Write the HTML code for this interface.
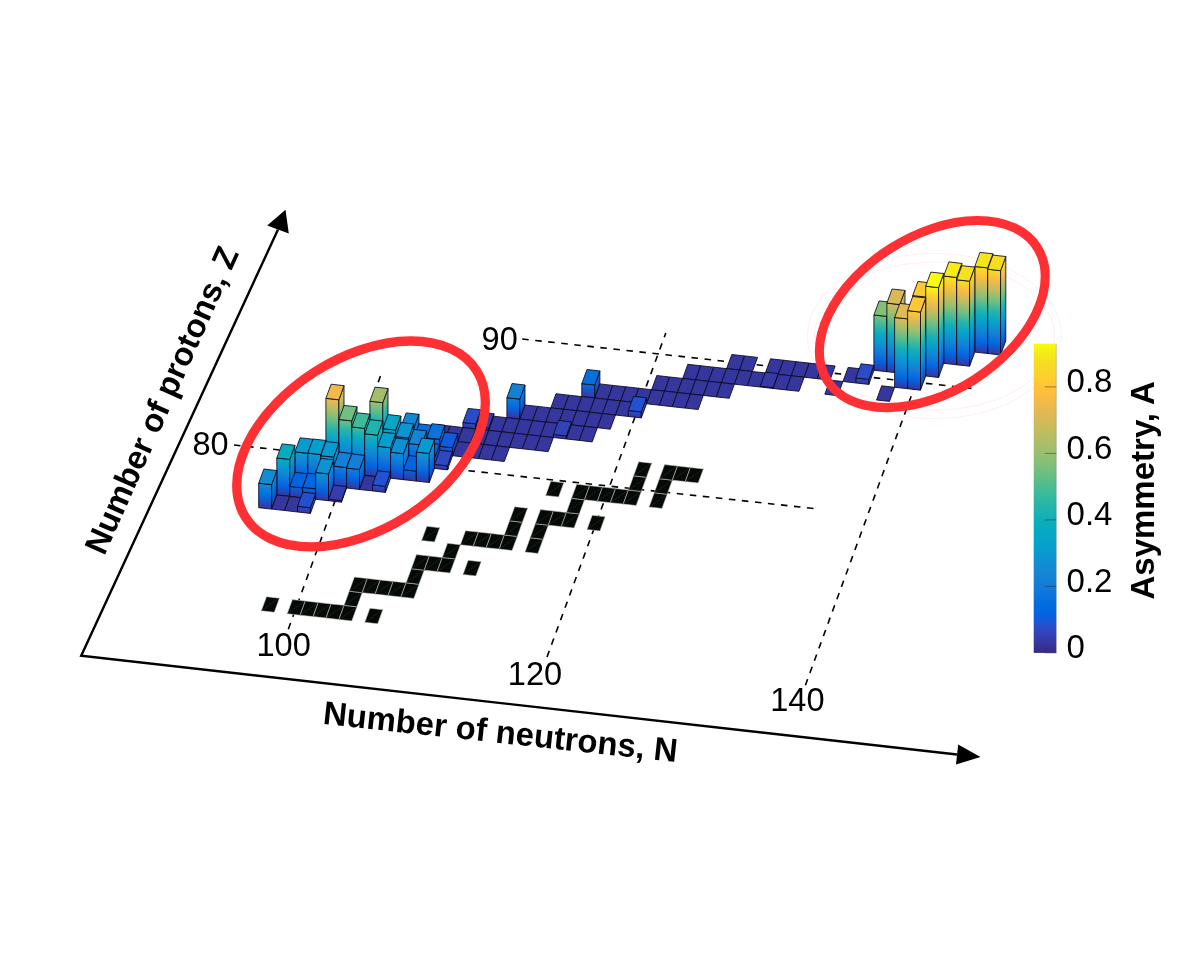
<!DOCTYPE html><html><head><meta charset="utf-8"><title>Asymmetry chart</title><style>html,body{margin:0;padding:0;background:#fff}svg{display:block}</style></head><body><svg width="1200" height="960" viewBox="0 0 1200 960" font-family="'Liberation Sans', Arial, Helvetica, sans-serif"><defs><linearGradient id="g1" gradientUnits="userSpaceOnUse" x1="974.8" y1="352.1" x2="984.2" y2="267.5"><stop offset="0%" stop-color="#36369f"/><stop offset="11.1%" stop-color="#0363e1"/><stop offset="22.2%" stop-color="#127dd8"/><stop offset="33.3%" stop-color="#0998d1"/><stop offset="44.4%" stop-color="#0dadbb"/><stop offset="55.6%" stop-color="#45bb96"/><stop offset="66.7%" stop-color="#91bf73"/><stop offset="77.8%" stop-color="#cdbb5b"/><stop offset="88.9%" stop-color="#febf3c"/><stop offset="100%" stop-color="#f5e41d"/></linearGradient><linearGradient id="g2" gradientUnits="userSpaceOnUse" x1="987.7" y1="353.5" x2="960.1" y2="343.4"><stop offset="0%" stop-color="#36369f"/><stop offset="11.1%" stop-color="#0363e1"/><stop offset="22.2%" stop-color="#127dd8"/><stop offset="33.3%" stop-color="#0998d1"/><stop offset="44.4%" stop-color="#0dadbb"/><stop offset="55.6%" stop-color="#45bb96"/><stop offset="66.7%" stop-color="#91bf73"/><stop offset="77.8%" stop-color="#cdbb5b"/><stop offset="88.9%" stop-color="#febf3c"/><stop offset="100%" stop-color="#f5e41d"/></linearGradient><linearGradient id="g3" gradientUnits="userSpaceOnUse" x1="987.7" y1="353.5" x2="996.9" y2="270.3"><stop offset="0%" stop-color="#36369f"/><stop offset="12.5%" stop-color="#0266e1"/><stop offset="25%" stop-color="#1482d5"/><stop offset="37.5%" stop-color="#06a1cd"/><stop offset="50%" stop-color="#21b4ac"/><stop offset="62.5%" stop-color="#6fbf81"/><stop offset="75%" stop-color="#b9bd63"/><stop offset="87.5%" stop-color="#f6ba46"/><stop offset="100%" stop-color="#f5de21"/></linearGradient><linearGradient id="g4" gradientUnits="userSpaceOnUse" x1="1000.6" y1="355" x2="973.4" y2="345"><stop offset="0%" stop-color="#36369f"/><stop offset="12.5%" stop-color="#0266e1"/><stop offset="25%" stop-color="#1482d5"/><stop offset="37.5%" stop-color="#06a1cd"/><stop offset="50%" stop-color="#21b4ac"/><stop offset="62.5%" stop-color="#6fbf81"/><stop offset="75%" stop-color="#b9bd63"/><stop offset="87.5%" stop-color="#f6ba46"/><stop offset="100%" stop-color="#f5de21"/></linearGradient><linearGradient id="g5" gradientUnits="userSpaceOnUse" x1="943.7" y1="363.3" x2="953.3" y2="277.1"><stop offset="0%" stop-color="#36369f"/><stop offset="11.1%" stop-color="#0363e1"/><stop offset="22.2%" stop-color="#137ed7"/><stop offset="33.3%" stop-color="#089ad0"/><stop offset="44.4%" stop-color="#10afb8"/><stop offset="55.6%" stop-color="#4dbc92"/><stop offset="66.7%" stop-color="#99bf70"/><stop offset="77.8%" stop-color="#d5ba57"/><stop offset="88.9%" stop-color="#fec536"/><stop offset="100%" stop-color="#f5ec18"/></linearGradient><linearGradient id="g6" gradientUnits="userSpaceOnUse" x1="956.7" y1="364.8" x2="928.5" y2="354.5"><stop offset="0%" stop-color="#36369f"/><stop offset="11.1%" stop-color="#0363e1"/><stop offset="22.2%" stop-color="#137ed7"/><stop offset="33.3%" stop-color="#089ad0"/><stop offset="44.4%" stop-color="#10afb8"/><stop offset="55.6%" stop-color="#4dbc92"/><stop offset="66.7%" stop-color="#99bf70"/><stop offset="77.8%" stop-color="#d5ba57"/><stop offset="88.9%" stop-color="#fec536"/><stop offset="100%" stop-color="#f5ec18"/></linearGradient><linearGradient id="g7" gradientUnits="userSpaceOnUse" x1="956.7" y1="364.8" x2="966" y2="280.8"><stop offset="0%" stop-color="#36369f"/><stop offset="12.5%" stop-color="#0267e1"/><stop offset="25%" stop-color="#1482d5"/><stop offset="37.5%" stop-color="#06a1cc"/><stop offset="50%" stop-color="#23b4ab"/><stop offset="62.5%" stop-color="#73bf7f"/><stop offset="75%" stop-color="#bdbd61"/><stop offset="87.5%" stop-color="#f9bb44"/><stop offset="100%" stop-color="#f5e11f"/></linearGradient><linearGradient id="g8" gradientUnits="userSpaceOnUse" x1="969.6" y1="366.2" x2="942.2" y2="356.2"><stop offset="0%" stop-color="#36369f"/><stop offset="12.5%" stop-color="#0267e1"/><stop offset="25%" stop-color="#1482d5"/><stop offset="37.5%" stop-color="#06a1cc"/><stop offset="50%" stop-color="#23b4ab"/><stop offset="62.5%" stop-color="#73bf7f"/><stop offset="75%" stop-color="#bdbd61"/><stop offset="87.5%" stop-color="#f9bb44"/><stop offset="100%" stop-color="#f5e11f"/></linearGradient><linearGradient id="g9" gradientUnits="userSpaceOnUse" x1="873.9" y1="370.3" x2="880" y2="315.7"><stop offset="0%" stop-color="#36369f"/><stop offset="16.7%" stop-color="#0561e0"/><stop offset="33.3%" stop-color="#127bd9"/><stop offset="50%" stop-color="#0b96d1"/><stop offset="66.7%" stop-color="#09abbe"/><stop offset="83.3%" stop-color="#3ab99c"/><stop offset="100%" stop-color="#84bf78"/></linearGradient><linearGradient id="g10" gradientUnits="userSpaceOnUse" x1="886.9" y1="371.7" x2="869" y2="365.2"><stop offset="0%" stop-color="#36369f"/><stop offset="16.7%" stop-color="#0561e0"/><stop offset="33.3%" stop-color="#127bd9"/><stop offset="50%" stop-color="#0b96d1"/><stop offset="66.7%" stop-color="#09abbe"/><stop offset="83.3%" stop-color="#3ab99c"/><stop offset="100%" stop-color="#84bf78"/></linearGradient><linearGradient id="g11" gradientUnits="userSpaceOnUse" x1="886.9" y1="371.7" x2="894.4" y2="304"><stop offset="0%" stop-color="#36369f"/><stop offset="14.3%" stop-color="#0364e1"/><stop offset="28.6%" stop-color="#137ed7"/><stop offset="42.9%" stop-color="#089bd0"/><stop offset="57.1%" stop-color="#12afb7"/><stop offset="71.4%" stop-color="#51bc90"/><stop offset="85.7%" stop-color="#9dbe6e"/><stop offset="100%" stop-color="#d9ba56"/></linearGradient><linearGradient id="g12" gradientUnits="userSpaceOnUse" x1="899.8" y1="373.2" x2="877.7" y2="365.1"><stop offset="0%" stop-color="#36369f"/><stop offset="14.3%" stop-color="#0364e1"/><stop offset="28.6%" stop-color="#137ed7"/><stop offset="42.9%" stop-color="#089bd0"/><stop offset="57.1%" stop-color="#12afb7"/><stop offset="71.4%" stop-color="#51bc90"/><stop offset="85.7%" stop-color="#9dbe6e"/><stop offset="100%" stop-color="#d9ba56"/></linearGradient><linearGradient id="g13" gradientUnits="userSpaceOnUse" x1="899.8" y1="373.2" x2="900.9" y2="363.3"><stop offset="0%" stop-color="#36369f"/><stop offset="100%" stop-color="#0364e1"/></linearGradient><linearGradient id="g14" gradientUnits="userSpaceOnUse" x1="912.7" y1="374.6" x2="909.5" y2="373.4"><stop offset="0%" stop-color="#36369f"/><stop offset="100%" stop-color="#0364e1"/></linearGradient><linearGradient id="g15" gradientUnits="userSpaceOnUse" x1="912.7" y1="374.6" x2="921.4" y2="296.6"><stop offset="0%" stop-color="#36369f"/><stop offset="12.5%" stop-color="#0364e1"/><stop offset="25%" stop-color="#137fd7"/><stop offset="37.5%" stop-color="#079bd0"/><stop offset="50%" stop-color="#13b0b6"/><stop offset="62.5%" stop-color="#54bd8e"/><stop offset="75%" stop-color="#a0be6d"/><stop offset="87.5%" stop-color="#dcba54"/><stop offset="100%" stop-color="#fdca31"/></linearGradient><linearGradient id="g16" gradientUnits="userSpaceOnUse" x1="925.7" y1="376" x2="900.2" y2="366.7"><stop offset="0%" stop-color="#36369f"/><stop offset="12.5%" stop-color="#0364e1"/><stop offset="25%" stop-color="#137fd7"/><stop offset="37.5%" stop-color="#079bd0"/><stop offset="50%" stop-color="#13b0b6"/><stop offset="62.5%" stop-color="#54bd8e"/><stop offset="75%" stop-color="#a0be6d"/><stop offset="87.5%" stop-color="#dcba54"/><stop offset="100%" stop-color="#fdca31"/></linearGradient><linearGradient id="g17" gradientUnits="userSpaceOnUse" x1="925.7" y1="376" x2="935.5" y2="287.3"><stop offset="0%" stop-color="#36369f"/><stop offset="11.1%" stop-color="#0364e1"/><stop offset="22.2%" stop-color="#137fd7"/><stop offset="33.3%" stop-color="#079cd0"/><stop offset="44.4%" stop-color="#15b1b4"/><stop offset="55.6%" stop-color="#58bd8c"/><stop offset="66.7%" stop-color="#a4be6b"/><stop offset="77.8%" stop-color="#e0ba52"/><stop offset="88.9%" stop-color="#fccd2e"/><stop offset="100%" stop-color="#f9fa0e"/></linearGradient><linearGradient id="g18" gradientUnits="userSpaceOnUse" x1="938.6" y1="377.5" x2="909.6" y2="366.9"><stop offset="0%" stop-color="#36369f"/><stop offset="11.1%" stop-color="#0364e1"/><stop offset="22.2%" stop-color="#137fd7"/><stop offset="33.3%" stop-color="#079cd0"/><stop offset="44.4%" stop-color="#15b1b4"/><stop offset="55.6%" stop-color="#58bd8c"/><stop offset="66.7%" stop-color="#a4be6b"/><stop offset="77.8%" stop-color="#e0ba52"/><stop offset="88.9%" stop-color="#fccd2e"/><stop offset="100%" stop-color="#f9fa0e"/></linearGradient><linearGradient id="g19" gradientUnits="userSpaceOnUse" x1="855.9" y1="383" x2="856.4" y2="378"><stop offset="0%" stop-color="#36369f"/><stop offset="100%" stop-color="#2a4cc8"/></linearGradient><linearGradient id="g20" gradientUnits="userSpaceOnUse" x1="868.8" y1="384.4" x2="867.2" y2="383.8"><stop offset="0%" stop-color="#36369f"/><stop offset="100%" stop-color="#2a4cc8"/></linearGradient><linearGradient id="g21" gradientUnits="userSpaceOnUse" x1="894.6" y1="387.3" x2="902.3" y2="318.3"><stop offset="0%" stop-color="#36369f"/><stop offset="14.3%" stop-color="#0364e1"/><stop offset="28.6%" stop-color="#137fd7"/><stop offset="42.9%" stop-color="#079cd0"/><stop offset="57.1%" stop-color="#15b0b4"/><stop offset="71.4%" stop-color="#58bd8c"/><stop offset="85.7%" stop-color="#a4be6b"/><stop offset="100%" stop-color="#e0ba53"/></linearGradient><linearGradient id="g22" gradientUnits="userSpaceOnUse" x1="907.6" y1="388.7" x2="885" y2="380.5"><stop offset="0%" stop-color="#36369f"/><stop offset="14.3%" stop-color="#0364e1"/><stop offset="28.6%" stop-color="#137fd7"/><stop offset="42.9%" stop-color="#079cd0"/><stop offset="57.1%" stop-color="#15b0b4"/><stop offset="71.4%" stop-color="#58bd8c"/><stop offset="85.7%" stop-color="#a4be6b"/><stop offset="100%" stop-color="#e0ba53"/></linearGradient><linearGradient id="g23" gradientUnits="userSpaceOnUse" x1="907.6" y1="388.7" x2="916.1" y2="311.6"><stop offset="0%" stop-color="#36369f"/><stop offset="12.5%" stop-color="#0364e1"/><stop offset="25%" stop-color="#137ed7"/><stop offset="37.5%" stop-color="#089bd0"/><stop offset="50%" stop-color="#11afb7"/><stop offset="62.5%" stop-color="#4fbc91"/><stop offset="75%" stop-color="#9cbf6f"/><stop offset="87.5%" stop-color="#d8ba56"/><stop offset="100%" stop-color="#fec734"/></linearGradient><linearGradient id="g24" gradientUnits="userSpaceOnUse" x1="920.5" y1="390.2" x2="895.3" y2="380.9"><stop offset="0%" stop-color="#36369f"/><stop offset="12.5%" stop-color="#0364e1"/><stop offset="25%" stop-color="#137ed7"/><stop offset="37.5%" stop-color="#089bd0"/><stop offset="50%" stop-color="#11afb7"/><stop offset="62.5%" stop-color="#4fbc91"/><stop offset="75%" stop-color="#9cbf6f"/><stop offset="87.5%" stop-color="#d8ba56"/><stop offset="100%" stop-color="#fec734"/></linearGradient><linearGradient id="g25" gradientUnits="userSpaceOnUse" x1="760.2" y1="387" x2="760.3" y2="386.2"><stop offset="0%" stop-color="#36369f"/><stop offset="100%" stop-color="#3639a6"/></linearGradient><linearGradient id="g26" gradientUnits="userSpaceOnUse" x1="773.1" y1="388.5" x2="772.9" y2="388.4"><stop offset="0%" stop-color="#36369f"/><stop offset="100%" stop-color="#3639a6"/></linearGradient><linearGradient id="g27" gradientUnits="userSpaceOnUse" x1="581.8" y1="396.6" x2="583.3" y2="383.8"><stop offset="0%" stop-color="#36369f"/><stop offset="100%" stop-color="#056ee0"/></linearGradient><linearGradient id="g28" gradientUnits="userSpaceOnUse" x1="594.8" y1="398" x2="590.6" y2="396.5"><stop offset="0%" stop-color="#36369f"/><stop offset="100%" stop-color="#056ee0"/></linearGradient><linearGradient id="g29" gradientUnits="userSpaceOnUse" x1="628.4" y1="416.5" x2="629" y2="410.5"><stop offset="0%" stop-color="#36369f"/><stop offset="100%" stop-color="#2351d1"/></linearGradient><linearGradient id="g30" gradientUnits="userSpaceOnUse" x1="641.3" y1="417.9" x2="639.4" y2="417.2"><stop offset="0%" stop-color="#36369f"/><stop offset="100%" stop-color="#2351d1"/></linearGradient><linearGradient id="g31" gradientUnits="userSpaceOnUse" x1="506.9" y1="417.7" x2="509.1" y2="397.9"><stop offset="0%" stop-color="#36369f"/><stop offset="50%" stop-color="#0364e1"/><stop offset="100%" stop-color="#137fd7"/></linearGradient><linearGradient id="g32" gradientUnits="userSpaceOnUse" x1="519.8" y1="419.1" x2="513.3" y2="416.7"><stop offset="0%" stop-color="#36369f"/><stop offset="50%" stop-color="#0364e1"/><stop offset="100%" stop-color="#137fd7"/></linearGradient><linearGradient id="g33" gradientUnits="userSpaceOnUse" x1="462.9" y1="427.5" x2="463.5" y2="422.5"><stop offset="0%" stop-color="#36369f"/><stop offset="100%" stop-color="#2a4cc8"/></linearGradient><linearGradient id="g34" gradientUnits="userSpaceOnUse" x1="475.9" y1="428.9" x2="474.2" y2="428.3"><stop offset="0%" stop-color="#36369f"/><stop offset="100%" stop-color="#2a4cc8"/></linearGradient><linearGradient id="g35" gradientUnits="userSpaceOnUse" x1="475.9" y1="428.9" x2="476.1" y2="426.4"><stop offset="0%" stop-color="#36369f"/><stop offset="100%" stop-color="#3340b4"/></linearGradient><linearGradient id="g36" gradientUnits="userSpaceOnUse" x1="488.8" y1="430.4" x2="488" y2="430.1"><stop offset="0%" stop-color="#36369f"/><stop offset="100%" stop-color="#3340b4"/></linearGradient><linearGradient id="g37" gradientUnits="userSpaceOnUse" x1="553.4" y1="437.5" x2="553.7" y2="434.6"><stop offset="0%" stop-color="#36369f"/><stop offset="100%" stop-color="#3243b8"/></linearGradient><linearGradient id="g38" gradientUnits="userSpaceOnUse" x1="566.3" y1="439" x2="565.4" y2="438.6"><stop offset="0%" stop-color="#36369f"/><stop offset="100%" stop-color="#3243b8"/></linearGradient><linearGradient id="g39" gradientUnits="userSpaceOnUse" x1="400.9" y1="450" x2="403.4" y2="427.3"><stop offset="0%" stop-color="#36369f"/><stop offset="50%" stop-color="#0269e1"/><stop offset="100%" stop-color="#1487d3"/></linearGradient><linearGradient id="g40" gradientUnits="userSpaceOnUse" x1="413.8" y1="451.4" x2="406.4" y2="448.7"><stop offset="0%" stop-color="#36369f"/><stop offset="50%" stop-color="#0269e1"/><stop offset="100%" stop-color="#1487d3"/></linearGradient><linearGradient id="g41" gradientUnits="userSpaceOnUse" x1="413.8" y1="451.4" x2="415.3" y2="438.1"><stop offset="0%" stop-color="#36369f"/><stop offset="100%" stop-color="#066fdf"/></linearGradient><linearGradient id="g42" gradientUnits="userSpaceOnUse" x1="426.7" y1="452.9" x2="422.4" y2="451.3"><stop offset="0%" stop-color="#36369f"/><stop offset="100%" stop-color="#066fdf"/></linearGradient><linearGradient id="g43" gradientUnits="userSpaceOnUse" x1="426.7" y1="452.9" x2="428.4" y2="438"><stop offset="0%" stop-color="#36369f"/><stop offset="100%" stop-color="#0a73dd"/></linearGradient><linearGradient id="g44" gradientUnits="userSpaceOnUse" x1="439.7" y1="454.3" x2="434.8" y2="452.5"><stop offset="0%" stop-color="#36369f"/><stop offset="100%" stop-color="#0a73dd"/></linearGradient><linearGradient id="g45" gradientUnits="userSpaceOnUse" x1="439.7" y1="454.3" x2="440.6" y2="446.4"><stop offset="0%" stop-color="#36369f"/><stop offset="100%" stop-color="#0f5cde"/></linearGradient><linearGradient id="g46" gradientUnits="userSpaceOnUse" x1="452.6" y1="455.7" x2="450" y2="454.8"><stop offset="0%" stop-color="#36369f"/><stop offset="100%" stop-color="#0f5cde"/></linearGradient><linearGradient id="g47" gradientUnits="userSpaceOnUse" x1="369.9" y1="461.2" x2="376.5" y2="402"><stop offset="0%" stop-color="#36369f"/><stop offset="16.7%" stop-color="#0364e1"/><stop offset="33.3%" stop-color="#137fd7"/><stop offset="50%" stop-color="#079ccf"/><stop offset="66.7%" stop-color="#15b1b4"/><stop offset="83.3%" stop-color="#59bd8c"/><stop offset="100%" stop-color="#a5be6b"/></linearGradient><linearGradient id="g48" gradientUnits="userSpaceOnUse" x1="382.8" y1="462.7" x2="363.4" y2="455.6"><stop offset="0%" stop-color="#36369f"/><stop offset="16.7%" stop-color="#0364e1"/><stop offset="33.3%" stop-color="#137fd7"/><stop offset="50%" stop-color="#079ccf"/><stop offset="66.7%" stop-color="#15b1b4"/><stop offset="83.3%" stop-color="#59bd8c"/><stop offset="100%" stop-color="#a5be6b"/></linearGradient><linearGradient id="g49" gradientUnits="userSpaceOnUse" x1="382.8" y1="462.7" x2="386.5" y2="429.1"><stop offset="0%" stop-color="#36369f"/><stop offset="33.3%" stop-color="#0269e1"/><stop offset="66.7%" stop-color="#1486d4"/><stop offset="100%" stop-color="#06a6c7"/></linearGradient><linearGradient id="g50" gradientUnits="userSpaceOnUse" x1="395.7" y1="464.1" x2="384.8" y2="460.1"><stop offset="0%" stop-color="#36369f"/><stop offset="33.3%" stop-color="#0269e1"/><stop offset="66.7%" stop-color="#1486d4"/><stop offset="100%" stop-color="#06a6c7"/></linearGradient><linearGradient id="g51" gradientUnits="userSpaceOnUse" x1="395.7" y1="464.1" x2="398.7" y2="436.9"><stop offset="0%" stop-color="#36369f"/><stop offset="33.3%" stop-color="#0661e0"/><stop offset="66.7%" stop-color="#117bd9"/><stop offset="100%" stop-color="#0b95d2"/></linearGradient><linearGradient id="g52" gradientUnits="userSpaceOnUse" x1="408.7" y1="465.5" x2="399.8" y2="462.3"><stop offset="0%" stop-color="#36369f"/><stop offset="33.3%" stop-color="#0661e0"/><stop offset="66.7%" stop-color="#117bd9"/><stop offset="100%" stop-color="#0b95d2"/></linearGradient><linearGradient id="g53" gradientUnits="userSpaceOnUse" x1="408.7" y1="465.5" x2="411.1" y2="443.8"><stop offset="0%" stop-color="#36369f"/><stop offset="50%" stop-color="#0268e1"/><stop offset="100%" stop-color="#1484d4"/></linearGradient><linearGradient id="g54" gradientUnits="userSpaceOnUse" x1="421.6" y1="467" x2="414.5" y2="464.4"><stop offset="0%" stop-color="#36369f"/><stop offset="50%" stop-color="#0268e1"/><stop offset="100%" stop-color="#1484d4"/></linearGradient><linearGradient id="g55" gradientUnits="userSpaceOnUse" x1="421.6" y1="467" x2="422.7" y2="457.1"><stop offset="0%" stop-color="#36369f"/><stop offset="100%" stop-color="#0364e1"/></linearGradient><linearGradient id="g56" gradientUnits="userSpaceOnUse" x1="434.5" y1="468.4" x2="431.3" y2="467.2"><stop offset="0%" stop-color="#36369f"/><stop offset="100%" stop-color="#0364e1"/></linearGradient><linearGradient id="g57" gradientUnits="userSpaceOnUse" x1="434.5" y1="468.4" x2="434.9" y2="464.5"><stop offset="0%" stop-color="#36369f"/><stop offset="100%" stop-color="#2f47c0"/></linearGradient><linearGradient id="g58" gradientUnits="userSpaceOnUse" x1="447.4" y1="469.9" x2="446.1" y2="469.4"><stop offset="0%" stop-color="#36369f"/><stop offset="100%" stop-color="#2f47c0"/></linearGradient><linearGradient id="g59" gradientUnits="userSpaceOnUse" x1="325.9" y1="471" x2="333.9" y2="399.2"><stop offset="0%" stop-color="#36369f"/><stop offset="14.3%" stop-color="#0266e1"/><stop offset="28.6%" stop-color="#1481d6"/><stop offset="42.9%" stop-color="#06a0cd"/><stop offset="57.1%" stop-color="#1eb3ae"/><stop offset="71.4%" stop-color="#69be84"/><stop offset="85.7%" stop-color="#b4bd65"/><stop offset="100%" stop-color="#f0b94a"/></linearGradient><linearGradient id="g60" gradientUnits="userSpaceOnUse" x1="338.9" y1="472.5" x2="315.4" y2="463.9"><stop offset="0%" stop-color="#36369f"/><stop offset="14.3%" stop-color="#0266e1"/><stop offset="28.6%" stop-color="#1481d6"/><stop offset="42.9%" stop-color="#06a0cd"/><stop offset="57.1%" stop-color="#1eb3ae"/><stop offset="71.4%" stop-color="#69be84"/><stop offset="85.7%" stop-color="#b4bd65"/><stop offset="100%" stop-color="#f0b94a"/></linearGradient><linearGradient id="g61" gradientUnits="userSpaceOnUse" x1="338.9" y1="472.5" x2="344.7" y2="420.1"><stop offset="0%" stop-color="#36369f"/><stop offset="20%" stop-color="#0267e1"/><stop offset="40%" stop-color="#1482d5"/><stop offset="60%" stop-color="#06a1cc"/><stop offset="80%" stop-color="#22b4ab"/><stop offset="100%" stop-color="#72bf80"/></linearGradient><linearGradient id="g62" gradientUnits="userSpaceOnUse" x1="351.8" y1="473.9" x2="334.7" y2="467.7"><stop offset="0%" stop-color="#36369f"/><stop offset="20%" stop-color="#0267e1"/><stop offset="40%" stop-color="#1482d5"/><stop offset="60%" stop-color="#06a1cc"/><stop offset="80%" stop-color="#22b4ab"/><stop offset="100%" stop-color="#72bf80"/></linearGradient><linearGradient id="g63" gradientUnits="userSpaceOnUse" x1="351.8" y1="473.9" x2="356.9" y2="427.5"><stop offset="0%" stop-color="#36369f"/><stop offset="20%" stop-color="#0462e1"/><stop offset="40%" stop-color="#127cd8"/><stop offset="60%" stop-color="#0997d1"/><stop offset="80%" stop-color="#0badbc"/><stop offset="100%" stop-color="#41ba98"/></linearGradient><linearGradient id="g64" gradientUnits="userSpaceOnUse" x1="364.7" y1="475.4" x2="349.5" y2="469.8"><stop offset="0%" stop-color="#36369f"/><stop offset="20%" stop-color="#0462e1"/><stop offset="40%" stop-color="#127cd8"/><stop offset="60%" stop-color="#0997d1"/><stop offset="80%" stop-color="#0badbc"/><stop offset="100%" stop-color="#41ba98"/></linearGradient><linearGradient id="g65" gradientUnits="userSpaceOnUse" x1="364.7" y1="475.4" x2="369.3" y2="434.3"><stop offset="0%" stop-color="#36369f"/><stop offset="25%" stop-color="#0266e1"/><stop offset="50%" stop-color="#1481d5"/><stop offset="75%" stop-color="#06a0cd"/><stop offset="100%" stop-color="#1eb3ae"/></linearGradient><linearGradient id="g66" gradientUnits="userSpaceOnUse" x1="377.6" y1="476.8" x2="364.2" y2="471.9"><stop offset="0%" stop-color="#36369f"/><stop offset="25%" stop-color="#0266e1"/><stop offset="50%" stop-color="#1481d5"/><stop offset="75%" stop-color="#06a0cd"/><stop offset="100%" stop-color="#1eb3ae"/></linearGradient><linearGradient id="g67" gradientUnits="userSpaceOnUse" x1="377.6" y1="476.8" x2="381" y2="446.7"><stop offset="0%" stop-color="#36369f"/><stop offset="33.3%" stop-color="#0265e1"/><stop offset="66.7%" stop-color="#1480d6"/><stop offset="100%" stop-color="#079ecf"/></linearGradient><linearGradient id="g68" gradientUnits="userSpaceOnUse" x1="390.6" y1="478.2" x2="380.7" y2="474.6"><stop offset="0%" stop-color="#36369f"/><stop offset="33.3%" stop-color="#0265e1"/><stop offset="66.7%" stop-color="#1480d6"/><stop offset="100%" stop-color="#079ecf"/></linearGradient><linearGradient id="g69" gradientUnits="userSpaceOnUse" x1="390.6" y1="478.2" x2="393.4" y2="452.5"><stop offset="0%" stop-color="#36369f"/><stop offset="33.3%" stop-color="#0a5fdf"/><stop offset="66.7%" stop-color="#1079da"/><stop offset="100%" stop-color="#0f90d2"/></linearGradient><linearGradient id="g70" gradientUnits="userSpaceOnUse" x1="403.5" y1="479.7" x2="395.1" y2="476.6"><stop offset="0%" stop-color="#36369f"/><stop offset="33.3%" stop-color="#0a5fdf"/><stop offset="66.7%" stop-color="#1079da"/><stop offset="100%" stop-color="#0f90d2"/></linearGradient><linearGradient id="g71" gradientUnits="userSpaceOnUse" x1="403.5" y1="479.7" x2="404.6" y2="469.8"><stop offset="0%" stop-color="#36369f"/><stop offset="100%" stop-color="#0364e1"/></linearGradient><linearGradient id="g72" gradientUnits="userSpaceOnUse" x1="416.4" y1="481.1" x2="413.2" y2="479.9"><stop offset="0%" stop-color="#36369f"/><stop offset="100%" stop-color="#0364e1"/></linearGradient><linearGradient id="g73" gradientUnits="userSpaceOnUse" x1="416.4" y1="481.1" x2="419.6" y2="452.5"><stop offset="0%" stop-color="#36369f"/><stop offset="33.3%" stop-color="#0363e1"/><stop offset="66.7%" stop-color="#137ed7"/><stop offset="100%" stop-color="#089ad0"/></linearGradient><linearGradient id="g74" gradientUnits="userSpaceOnUse" x1="429.3" y1="482.5" x2="420" y2="479.1"><stop offset="0%" stop-color="#36369f"/><stop offset="33.3%" stop-color="#0363e1"/><stop offset="66.7%" stop-color="#137ed7"/><stop offset="100%" stop-color="#089ad0"/></linearGradient><linearGradient id="g75" gradientUnits="userSpaceOnUse" x1="294.9" y1="482.3" x2="298.3" y2="452.3"><stop offset="0%" stop-color="#36369f"/><stop offset="33.3%" stop-color="#0265e1"/><stop offset="66.7%" stop-color="#1480d6"/><stop offset="100%" stop-color="#079ecf"/></linearGradient><linearGradient id="g76" gradientUnits="userSpaceOnUse" x1="307.8" y1="483.7" x2="298" y2="480.1"><stop offset="0%" stop-color="#36369f"/><stop offset="33.3%" stop-color="#0265e1"/><stop offset="66.7%" stop-color="#1480d6"/><stop offset="100%" stop-color="#079ecf"/></linearGradient><linearGradient id="g77" gradientUnits="userSpaceOnUse" x1="307.8" y1="483.7" x2="311.2" y2="453.5"><stop offset="0%" stop-color="#36369f"/><stop offset="33.3%" stop-color="#0265e1"/><stop offset="66.7%" stop-color="#1480d6"/><stop offset="100%" stop-color="#069ece"/></linearGradient><linearGradient id="g78" gradientUnits="userSpaceOnUse" x1="320.8" y1="485.2" x2="310.9" y2="481.6"><stop offset="0%" stop-color="#36369f"/><stop offset="33.3%" stop-color="#0265e1"/><stop offset="66.7%" stop-color="#1480d6"/><stop offset="100%" stop-color="#069ece"/></linearGradient><linearGradient id="g79" gradientUnits="userSpaceOnUse" x1="320.8" y1="485.2" x2="324" y2="456"><stop offset="0%" stop-color="#36369f"/><stop offset="33.3%" stop-color="#0364e1"/><stop offset="66.7%" stop-color="#137ed7"/><stop offset="100%" stop-color="#079bd0"/></linearGradient><linearGradient id="g80" gradientUnits="userSpaceOnUse" x1="333.7" y1="486.6" x2="324.2" y2="483.1"><stop offset="0%" stop-color="#36369f"/><stop offset="33.3%" stop-color="#0364e1"/><stop offset="66.7%" stop-color="#137ed7"/><stop offset="100%" stop-color="#079bd0"/></linearGradient><linearGradient id="g81" gradientUnits="userSpaceOnUse" x1="333.7" y1="486.6" x2="335.9" y2="466.5"><stop offset="0%" stop-color="#36369f"/><stop offset="50%" stop-color="#0265e1"/><stop offset="100%" stop-color="#1480d6"/></linearGradient><linearGradient id="g82" gradientUnits="userSpaceOnUse" x1="346.6" y1="488" x2="340" y2="485.6"><stop offset="0%" stop-color="#36369f"/><stop offset="50%" stop-color="#0265e1"/><stop offset="100%" stop-color="#1480d6"/></linearGradient><linearGradient id="g83" gradientUnits="userSpaceOnUse" x1="346.6" y1="488" x2="348.8" y2="468.3"><stop offset="0%" stop-color="#36369f"/><stop offset="50%" stop-color="#0364e1"/><stop offset="100%" stop-color="#137fd7"/></linearGradient><linearGradient id="g84" gradientUnits="userSpaceOnUse" x1="359.5" y1="489.5" x2="353.1" y2="487.1"><stop offset="0%" stop-color="#36369f"/><stop offset="50%" stop-color="#0364e1"/><stop offset="100%" stop-color="#137fd7"/></linearGradient><linearGradient id="g85" gradientUnits="userSpaceOnUse" x1="372.5" y1="490.9" x2="373.1" y2="485"><stop offset="0%" stop-color="#36369f"/><stop offset="100%" stop-color="#2351d1"/></linearGradient><linearGradient id="g86" gradientUnits="userSpaceOnUse" x1="385.4" y1="492.4" x2="383.5" y2="491.6"><stop offset="0%" stop-color="#36369f"/><stop offset="100%" stop-color="#2351d1"/></linearGradient><linearGradient id="g87" gradientUnits="userSpaceOnUse" x1="276.8" y1="495" x2="280.9" y2="458.4"><stop offset="0%" stop-color="#36369f"/><stop offset="25%" stop-color="#0562e0"/><stop offset="50%" stop-color="#127bd9"/><stop offset="75%" stop-color="#0a96d1"/><stop offset="100%" stop-color="#09acbe"/></linearGradient><linearGradient id="g88" gradientUnits="userSpaceOnUse" x1="289.8" y1="496.4" x2="277.8" y2="492.1"><stop offset="0%" stop-color="#36369f"/><stop offset="25%" stop-color="#0562e0"/><stop offset="50%" stop-color="#127bd9"/><stop offset="75%" stop-color="#0a96d1"/><stop offset="100%" stop-color="#09acbe"/></linearGradient><linearGradient id="g89" gradientUnits="userSpaceOnUse" x1="289.8" y1="496.4" x2="290.8" y2="486.5"><stop offset="0%" stop-color="#36369f"/><stop offset="100%" stop-color="#0364e1"/></linearGradient><linearGradient id="g90" gradientUnits="userSpaceOnUse" x1="302.7" y1="497.9" x2="299.4" y2="496.7"><stop offset="0%" stop-color="#36369f"/><stop offset="100%" stop-color="#0364e1"/></linearGradient><linearGradient id="g91" gradientUnits="userSpaceOnUse" x1="302.7" y1="497.9" x2="303.8" y2="487.5"><stop offset="0%" stop-color="#36369f"/><stop offset="100%" stop-color="#0266e1"/></linearGradient><linearGradient id="g92" gradientUnits="userSpaceOnUse" x1="315.6" y1="499.3" x2="312.2" y2="498.1"><stop offset="0%" stop-color="#36369f"/><stop offset="100%" stop-color="#0266e1"/></linearGradient><linearGradient id="g93" gradientUnits="userSpaceOnUse" x1="315.6" y1="499.3" x2="318.5" y2="472.8"><stop offset="0%" stop-color="#36369f"/><stop offset="33.3%" stop-color="#0760e0"/><stop offset="66.7%" stop-color="#117ad9"/><stop offset="100%" stop-color="#0d93d2"/></linearGradient><linearGradient id="g94" gradientUnits="userSpaceOnUse" x1="328.5" y1="500.7" x2="319.9" y2="497.6"><stop offset="0%" stop-color="#36369f"/><stop offset="33.3%" stop-color="#0760e0"/><stop offset="66.7%" stop-color="#117ad9"/><stop offset="100%" stop-color="#0d93d2"/></linearGradient><linearGradient id="g95" gradientUnits="userSpaceOnUse" x1="328.5" y1="500.7" x2="328.7" y2="499.2"><stop offset="0%" stop-color="#36369f"/><stop offset="100%" stop-color="#353cac"/></linearGradient><linearGradient id="g96" gradientUnits="userSpaceOnUse" x1="341.5" y1="502.2" x2="341" y2="502"><stop offset="0%" stop-color="#36369f"/><stop offset="100%" stop-color="#353cac"/></linearGradient><linearGradient id="g97" gradientUnits="userSpaceOnUse" x1="258.7" y1="507.7" x2="261.4" y2="483.5"><stop offset="0%" stop-color="#36369f"/><stop offset="50%" stop-color="#036ce0"/><stop offset="100%" stop-color="#128cd2"/></linearGradient><linearGradient id="g98" gradientUnits="userSpaceOnUse" x1="271.7" y1="509.1" x2="263.8" y2="506.2"><stop offset="0%" stop-color="#36369f"/><stop offset="50%" stop-color="#036ce0"/><stop offset="100%" stop-color="#128cd2"/></linearGradient><linearGradient id="g99" gradientUnits="userSpaceOnUse" x1="297.5" y1="512" x2="298.1" y2="506.3"><stop offset="0%" stop-color="#36369f"/><stop offset="100%" stop-color="#254fce"/></linearGradient><linearGradient id="g100" gradientUnits="userSpaceOnUse" x1="310.4" y1="513.4" x2="308.6" y2="512.7"><stop offset="0%" stop-color="#36369f"/><stop offset="100%" stop-color="#254fce"/></linearGradient><linearGradient id="cb" x1="0" y1="1" x2="0" y2="0"><stop offset="0%" stop-color="#352a87"/><stop offset="1.6%" stop-color="#363093"/><stop offset="3.2%" stop-color="#3637a0"/><stop offset="4.8%" stop-color="#353dad"/><stop offset="6.3%" stop-color="#3243ba"/><stop offset="7.9%" stop-color="#2c4ac7"/><stop offset="9.5%" stop-color="#2053d4"/><stop offset="11.1%" stop-color="#0f5cdd"/><stop offset="12.7%" stop-color="#0363e1"/><stop offset="14.3%" stop-color="#0268e1"/><stop offset="15.9%" stop-color="#046de0"/><stop offset="17.5%" stop-color="#0871de"/><stop offset="19%" stop-color="#0d75dc"/><stop offset="20.6%" stop-color="#1079da"/><stop offset="22.2%" stop-color="#127dd8"/><stop offset="23.8%" stop-color="#1481d6"/><stop offset="25.4%" stop-color="#1485d4"/><stop offset="27%" stop-color="#1389d3"/><stop offset="28.6%" stop-color="#108ed2"/><stop offset="30.2%" stop-color="#0c93d2"/><stop offset="31.7%" stop-color="#0998d1"/><stop offset="33.3%" stop-color="#079ccf"/><stop offset="34.9%" stop-color="#06a0cd"/><stop offset="36.5%" stop-color="#06a4ca"/><stop offset="38.1%" stop-color="#06a7c6"/><stop offset="39.7%" stop-color="#07a9c2"/><stop offset="41.3%" stop-color="#0aacbe"/><stop offset="42.9%" stop-color="#0faeb9"/><stop offset="44.4%" stop-color="#15b1b4"/><stop offset="46%" stop-color="#1db3af"/><stop offset="47.6%" stop-color="#25b5a9"/><stop offset="49.2%" stop-color="#2eb7a4"/><stop offset="50.8%" stop-color="#38b99e"/><stop offset="52.4%" stop-color="#42bb98"/><stop offset="54%" stop-color="#4dbc92"/><stop offset="55.6%" stop-color="#59bd8c"/><stop offset="57.1%" stop-color="#65be86"/><stop offset="58.7%" stop-color="#71bf80"/><stop offset="60.3%" stop-color="#7cbf7b"/><stop offset="61.9%" stop-color="#87bf77"/><stop offset="63.5%" stop-color="#92bf73"/><stop offset="65.1%" stop-color="#9cbf6f"/><stop offset="66.7%" stop-color="#a5be6b"/><stop offset="68.3%" stop-color="#aebe67"/><stop offset="69.8%" stop-color="#b7bd64"/><stop offset="71.4%" stop-color="#c0bc60"/><stop offset="73%" stop-color="#c8bc5d"/><stop offset="74.6%" stop-color="#d1bb59"/><stop offset="76.2%" stop-color="#d9ba56"/><stop offset="77.8%" stop-color="#e1b952"/><stop offset="79.4%" stop-color="#e9b94e"/><stop offset="81%" stop-color="#f1b94a"/><stop offset="82.5%" stop-color="#f8bb44"/><stop offset="84.1%" stop-color="#fdbe3d"/><stop offset="85.7%" stop-color="#ffc337"/><stop offset="87.3%" stop-color="#fec832"/><stop offset="88.9%" stop-color="#fcce2e"/><stop offset="90.5%" stop-color="#fad32a"/><stop offset="92.1%" stop-color="#f7d826"/><stop offset="93.7%" stop-color="#f5de21"/><stop offset="95.2%" stop-color="#f5e41d"/><stop offset="96.8%" stop-color="#f5eb18"/><stop offset="98.4%" stop-color="#f6f313"/><stop offset="100%" stop-color="#f9fb0e"/></linearGradient></defs><rect width="1200" height="960" fill="#fff"/><g stroke="#000" stroke-width="1.6" stroke-dasharray="6.55 6.55" fill="none"><line x1="234" y1="445" x2="815.5" y2="508.7"/><line x1="522.2" y1="339" x2="972.8" y2="388.5"/><line x1="288.3" y1="629.2" x2="358" y2="437.8"/><line x1="378.2" y1="382.3" x2="380.5" y2="376"/><line x1="547" y1="657" x2="665.8" y2="333"/><line x1="805.4" y1="685.3" x2="922.6" y2="365"/></g><g fill="none" stroke="#ffe0e0" stroke-width="0.7" stroke-dasharray="3 1"><ellipse cx="934.5" cy="336" rx="127" ry="82.5"/><ellipse cx="934.5" cy="336" rx="120" ry="74"/></g><g fill="#050a06" stroke="#c9ccc9" stroke-width="0.55" stroke-linejoin="miter"><polygon points="261.3,610.8 274.3,612.3 279.4,598.2 266.5,596.7"/><polygon points="287.2,613.7 300.1,615.2 305.3,601 292.4,599.6"/><polygon points="300.1,615.2 313.1,616.6 318.2,602.5 305.3,601"/><polygon points="313.1,616.6 326,618 331.1,603.9 318.2,602.5"/><polygon points="326,618 338.9,619.5 344.1,605.3 331.1,603.9"/><polygon points="338.9,619.5 351.8,620.9 357,606.8 344.1,605.3"/><polygon points="364.8,622.3 377.7,623.8 382.8,609.7 369.9,608.2"/><polygon points="344.1,605.3 357,606.8 362.2,592.7 349.2,591.2"/><polygon points="349.2,591.2 362.2,592.7 367.3,578.5 354.4,577.1"/><polygon points="362.2,592.7 375.1,594.1 380.3,580 367.3,578.5"/><polygon points="375.1,594.1 388,595.5 393.2,581.4 380.3,580"/><polygon points="388,595.5 400.9,597 406.1,582.8 393.2,581.4"/><polygon points="400.9,597 413.9,598.4 419,584.3 406.1,582.8"/><polygon points="406.1,582.8 419,584.3 424.2,570.2 411.3,568.7"/><polygon points="411.3,568.7 424.2,570.2 429.4,556 416.4,554.6"/><polygon points="424.2,570.2 437.1,571.6 442.3,557.5 429.4,556"/><polygon points="437.1,571.6 450,573 455.2,558.9 442.3,557.5"/><polygon points="463,574.5 475.9,575.9 481.1,561.8 468.1,560.3"/><polygon points="442.3,557.5 455.2,558.9 460.4,544.8 447.5,543.3"/><polygon points="421.6,540.5 434.5,541.9 439.7,527.8 426.8,526.3"/><polygon points="460.4,544.8 473.3,546.2 478.5,532.1 465.5,530.7"/><polygon points="473.3,546.2 486.2,547.7 491.4,533.5 478.5,532.1"/><polygon points="486.2,547.7 499.2,549.1 504.3,535 491.4,533.5"/><polygon points="499.2,549.1 512.1,550.5 517.3,536.4 504.3,535"/><polygon points="525,552 537.9,553.4 543.1,539.3 530.2,537.8"/><polygon points="504.3,535 517.3,536.4 522.4,522.3 509.5,520.8"/><polygon points="530.2,537.8 543.1,539.3 548.3,525.2 535.3,523.7"/><polygon points="509.5,520.8 522.4,522.3 527.6,508.2 514.7,506.7"/><polygon points="535.3,523.7 548.3,525.2 553.4,511 540.5,509.6"/><polygon points="548.3,525.2 561.2,526.6 566.4,512.5 553.4,511"/><polygon points="561.2,526.6 574.1,528 579.3,513.9 566.4,512.5"/><polygon points="587,529.5 600,530.9 605.1,516.8 592.2,515.3"/><polygon points="566.4,512.5 579.3,513.9 584.5,499.8 571.5,498.3"/><polygon points="545.7,495.5 558.6,496.9 563.8,482.8 550.8,481.3"/><polygon points="571.5,498.3 584.5,499.8 589.6,485.7 576.7,484.2"/><polygon points="584.5,499.8 597.4,501.2 602.5,487.1 589.6,485.7"/><polygon points="597.4,501.2 610.3,502.7 615.5,488.5 602.5,487.1"/><polygon points="610.3,502.7 623.2,504.1 628.4,490 615.5,488.5"/><polygon points="623.2,504.1 636.2,505.5 641.3,491.4 628.4,490"/><polygon points="649.1,507 662,508.4 667.2,494.3 654.2,492.8"/><polygon points="628.4,490 641.3,491.4 646.5,477.3 633.6,475.8"/><polygon points="654.2,492.8 667.2,494.3 672.3,480.2 659.4,478.7"/><polygon points="633.6,475.8 646.5,477.3 651.7,463.2 638.7,461.7"/><polygon points="659.4,478.7 672.3,480.2 677.5,466 664.6,464.6"/><polygon points="672.3,480.2 685.3,481.6 690.4,467.5 677.5,466"/><polygon points="685.3,481.6 698.2,483 703.4,468.9 690.4,467.5"/></g><g stroke="#2f332f" stroke-width="0.5"><line x1="261.3" y1="610.8" x2="279.4" y2="598.2"/><line x1="287.2" y1="613.7" x2="305.3" y2="601"/><line x1="300.1" y1="615.2" x2="318.2" y2="602.5"/><line x1="313.1" y1="616.6" x2="331.1" y2="603.9"/><line x1="326" y1="618" x2="344.1" y2="605.3"/><line x1="338.9" y1="619.5" x2="357" y2="606.8"/><line x1="364.8" y1="622.3" x2="382.8" y2="609.7"/><line x1="344.1" y1="605.3" x2="362.2" y2="592.7"/><line x1="349.2" y1="591.2" x2="367.3" y2="578.5"/><line x1="362.2" y1="592.7" x2="380.3" y2="580"/><line x1="375.1" y1="594.1" x2="393.2" y2="581.4"/><line x1="388" y1="595.5" x2="406.1" y2="582.8"/><line x1="400.9" y1="597" x2="419" y2="584.3"/><line x1="406.1" y1="582.8" x2="424.2" y2="570.2"/><line x1="411.3" y1="568.7" x2="429.4" y2="556"/><line x1="424.2" y1="570.2" x2="442.3" y2="557.5"/><line x1="437.1" y1="571.6" x2="455.2" y2="558.9"/><line x1="463" y1="574.5" x2="481.1" y2="561.8"/><line x1="442.3" y1="557.5" x2="460.4" y2="544.8"/><line x1="421.6" y1="540.5" x2="439.7" y2="527.8"/><line x1="460.4" y1="544.8" x2="478.5" y2="532.1"/><line x1="473.3" y1="546.2" x2="491.4" y2="533.5"/><line x1="486.2" y1="547.7" x2="504.3" y2="535"/><line x1="499.2" y1="549.1" x2="517.3" y2="536.4"/><line x1="525" y1="552" x2="543.1" y2="539.3"/><line x1="504.3" y1="535" x2="522.4" y2="522.3"/><line x1="530.2" y1="537.8" x2="548.3" y2="525.2"/><line x1="509.5" y1="520.8" x2="527.6" y2="508.2"/><line x1="535.3" y1="523.7" x2="553.4" y2="511"/><line x1="548.3" y1="525.2" x2="566.4" y2="512.5"/><line x1="561.2" y1="526.6" x2="579.3" y2="513.9"/><line x1="587" y1="529.5" x2="605.1" y2="516.8"/><line x1="566.4" y1="512.5" x2="584.5" y2="499.8"/><line x1="545.7" y1="495.5" x2="563.8" y2="482.8"/><line x1="571.5" y1="498.3" x2="589.6" y2="485.7"/><line x1="584.5" y1="499.8" x2="602.5" y2="487.1"/><line x1="597.4" y1="501.2" x2="615.5" y2="488.5"/><line x1="610.3" y1="502.7" x2="628.4" y2="490"/><line x1="623.2" y1="504.1" x2="641.3" y2="491.4"/><line x1="649.1" y1="507" x2="667.2" y2="494.3"/><line x1="628.4" y1="490" x2="646.5" y2="477.3"/><line x1="654.2" y1="492.8" x2="672.3" y2="480.2"/><line x1="633.6" y1="475.8" x2="651.7" y2="463.2"/><line x1="659.4" y1="478.7" x2="677.5" y2="466"/><line x1="672.3" y1="480.2" x2="690.4" y2="467.5"/><line x1="685.3" y1="481.6" x2="703.4" y2="468.9"/></g><g stroke="#090920" stroke-opacity="0.95" stroke-width="0.9" stroke-linejoin="round"><polygon fill="url(#g1)" points="974.8,352.1 987.7,353.5 987.7,267.9 974.8,266.5"/><polygon fill="url(#g2)" points="987.7,353.5 992.9,339.4 992.9,253.8 987.7,267.9"/><polygon fill="#f5e41d" points="974.8,266.5 987.7,267.9 992.9,253.8 979.9,252.4"/><polygon fill="url(#g3)" points="987.7,353.5 1000.6,355 1000.6,270.7 987.7,269.2"/><polygon fill="url(#g4)" points="1000.6,355 1005.8,340.8 1005.8,256.5 1000.6,270.7"/><polygon fill="#f5de21" points="987.7,269.2 1000.6,270.7 1005.8,256.5 992.9,255.1"/><polygon fill="url(#g5)" points="943.7,363.3 956.7,364.8 956.7,277.5 943.7,276"/><polygon fill="url(#g6)" points="956.7,364.8 961.8,350.7 961.8,263.4 956.7,277.5"/><polygon fill="#f5ec18" points="943.7,276 956.7,277.5 961.8,263.4 948.9,261.9"/><polygon fill="url(#g7)" points="956.7,364.8 969.6,366.2 969.6,281.2 956.7,279.8"/><polygon fill="url(#g8)" points="969.6,366.2 974.8,352.1 974.8,267.1 969.6,281.2"/><polygon fill="#f5e11f" points="956.7,279.8 969.6,281.2 974.8,267.1 961.8,265.7"/><polygon fill="url(#g9)" points="873.9,370.3 886.9,371.7 886.9,316.4 873.9,315"/><polygon fill="url(#g10)" points="886.9,371.7 892,357.6 892,302.3 886.9,316.4"/><polygon fill="#84bf78" points="873.9,315 886.9,316.4 892,302.3 879.1,300.9"/><polygon fill="url(#g11)" points="886.9,371.7 899.8,373.2 899.8,304.6 886.9,303.1"/><polygon fill="url(#g12)" points="899.8,373.2 905,359 905,290.4 899.8,304.6"/><polygon fill="#d9ba56" points="886.9,303.1 899.8,304.6 905,290.4 892,289"/><polygon fill="url(#g13)" points="899.8,373.2 912.7,374.6 912.7,364.6 899.8,363.2"/><polygon fill="url(#g14)" points="912.7,374.6 917.9,360.5 917.9,350.5 912.7,364.6"/><polygon fill="#0364e1" points="899.8,363.2 912.7,364.6 917.9,350.5 905,349"/><polygon fill="url(#g15)" points="912.7,374.6 925.7,376 925.7,297 912.7,295.6"/><polygon fill="url(#g16)" points="925.7,376 930.8,361.9 930.8,282.9 925.7,297"/><polygon fill="#fdca31" points="912.7,295.6 925.7,297 930.8,282.9 917.9,281.5"/><polygon fill="url(#g17)" points="925.7,376 938.6,377.5 938.6,287.7 925.7,286.2"/><polygon fill="url(#g18)" points="938.6,377.5 943.7,363.3 943.7,273.5 938.6,287.7"/><polygon fill="#f9fa0e" points="925.7,286.2 938.6,287.7 943.7,273.5 930.8,272.1"/><polygon fill="#36369f" points="726.6,368.6 739.5,370 744.7,355.9 731.8,354.5"/><polygon fill="#36369f" points="739.5,370 752.4,371.5 757.6,357.4 744.7,355.9"/><polygon fill="#36369f" points="765.4,372.9 778.3,374.4 783.5,360.2 770.5,358.8"/><polygon fill="#36369f" points="778.3,374.4 791.2,375.8 796.4,361.7 783.5,360.2"/><polygon fill="#36369f" points="791.2,375.8 804.2,377.2 809.3,363.1 796.4,361.7"/><polygon fill="#36369f" points="804.2,377.2 817.1,378.7 822.2,364.5 809.3,363.1"/><polygon fill="#36369f" points="817.1,378.7 830,380.1 835.2,366 822.2,364.5"/><polygon fill="#36369f" points="842.9,381.5 855.9,383 861,368.8 848.1,367.4"/><polygon fill="url(#g19)" points="855.9,383 868.8,384.4 868.8,379.4 855.9,378"/><polygon fill="url(#g20)" points="868.8,384.4 873.9,370.3 873.9,365.3 868.8,379.4"/><polygon fill="#2a4cc8" points="855.9,378 868.8,379.4 873.9,365.3 861,363.8"/><polygon fill="url(#g21)" points="894.6,387.3 907.6,388.7 907.6,318.9 894.6,317.5"/><polygon fill="url(#g22)" points="907.6,388.7 912.7,374.6 912.7,304.8 907.6,318.9"/><polygon fill="#e0ba53" points="894.6,317.5 907.6,318.9 912.7,304.8 899.8,303.4"/><polygon fill="url(#g23)" points="907.6,388.7 920.5,390.2 920.5,312.1 907.6,310.6"/><polygon fill="url(#g24)" points="920.5,390.2 925.7,376 925.7,297.9 920.5,312.1"/><polygon fill="#fec734" points="907.6,310.6 920.5,312.1 925.7,297.9 912.7,296.5"/><polygon fill="#36369f" points="682.7,378.4 695.6,379.9 700.7,365.7 687.8,364.3"/><polygon fill="#36369f" points="695.6,379.9 708.5,381.3 713.7,367.2 700.7,365.7"/><polygon fill="#36369f" points="708.5,381.3 721.4,382.7 726.6,368.6 713.7,367.2"/><polygon fill="#36369f" points="721.4,382.7 734.4,384.2 739.5,370 726.6,368.6"/><polygon fill="#36369f" points="734.4,384.2 747.3,385.6 752.4,371.5 739.5,370"/><polygon fill="#36369f" points="747.3,385.6 760.2,387 765.4,372.9 752.4,371.5"/><polygon fill="url(#g25)" points="760.2,387 773.1,388.5 773.1,387.7 760.2,386.2"/><polygon fill="url(#g26)" points="773.1,388.5 778.3,374.4 778.3,373.6 773.1,387.7"/><polygon fill="#3639a6" points="760.2,386.2 773.1,387.7 778.3,373.6 765.4,372.1"/><polygon fill="#36369f" points="773.1,388.5 786.1,389.9 791.2,375.8 778.3,374.4"/><polygon fill="#36369f" points="786.1,389.9 799,391.3 804.2,377.2 791.2,375.8"/><polygon fill="#36369f" points="824.8,394.2 837.8,395.7 842.9,381.5 830,380.1"/><polygon fill="#36369f" points="876.5,400 889.5,401.4 894.6,387.3 881.7,385.8"/><polygon fill="#36369f" points="651.6,389.7 664.6,391.1 669.7,377 656.8,375.5"/><polygon fill="#36369f" points="664.6,391.1 677.5,392.5 682.7,378.4 669.7,377"/><polygon fill="#36369f" points="677.5,392.5 690.4,394 695.6,379.9 682.7,378.4"/><polygon fill="#36369f" points="690.4,394 703.3,395.4 708.5,381.3 695.6,379.9"/><polygon fill="#36369f" points="703.3,395.4 716.3,396.9 721.4,382.7 708.5,381.3"/><polygon fill="#36369f" points="716.3,396.9 729.2,398.3 734.4,384.2 721.4,382.7"/><polygon fill="url(#g27)" points="581.8,396.6 594.8,398 594.8,385 581.8,383.6"/><polygon fill="url(#g28)" points="594.8,398 599.9,383.9 599.9,370.9 594.8,385"/><polygon fill="#056ee0" points="581.8,383.6 594.8,385 599.9,370.9 587,369.5"/><polygon fill="#36369f" points="594.8,398 607.7,399.5 612.9,385.4 599.9,383.9"/><polygon fill="#36369f" points="607.7,399.5 620.6,400.9 625.8,386.8 612.9,385.4"/><polygon fill="#36369f" points="620.6,400.9 633.5,402.4 638.7,388.2 625.8,386.8"/><polygon fill="#36369f" points="633.5,402.4 646.5,403.8 651.6,389.7 638.7,388.2"/><polygon fill="#36369f" points="646.5,403.8 659.4,405.2 664.6,391.1 651.6,389.7"/><polygon fill="#36369f" points="659.4,405.2 672.3,406.7 677.5,392.5 664.6,391.1"/><polygon fill="#36369f" points="672.3,406.7 685.2,408.1 690.4,394 677.5,392.5"/><polygon fill="#36369f" points="685.2,408.1 698.2,409.5 703.3,395.4 690.4,394"/><polygon fill="#36369f" points="550.8,407.9 563.7,409.3 568.9,395.2 556,393.7"/><polygon fill="#36369f" points="563.7,409.3 576.7,410.7 581.8,396.6 568.9,395.2"/><polygon fill="#36369f" points="576.7,410.7 589.6,412.2 594.8,398 581.8,396.6"/><polygon fill="#36369f" points="589.6,412.2 602.5,413.6 607.7,399.5 594.8,398"/><polygon fill="#36369f" points="602.5,413.6 615.5,415 620.6,400.9 607.7,399.5"/><polygon fill="#36369f" points="615.5,415 628.4,416.5 633.5,402.4 620.6,400.9"/><polygon fill="url(#g29)" points="628.4,416.5 641.3,417.9 641.3,411.9 628.4,410.5"/><polygon fill="url(#g30)" points="641.3,417.9 646.5,403.8 646.5,397.8 641.3,411.9"/><polygon fill="#2351d1" points="628.4,410.5 641.3,411.9 646.5,397.8 633.5,396.4"/><polygon fill="url(#g31)" points="506.9,417.7 519.8,419.1 519.8,399.1 506.9,397.7"/><polygon fill="url(#g32)" points="519.8,419.1 525,405 525,385 519.8,399.1"/><polygon fill="#137fd7" points="506.9,397.7 519.8,399.1 525,385 512,383.5"/><polygon fill="#36369f" points="519.8,419.1 532.7,420.5 537.9,406.4 525,405"/><polygon fill="#36369f" points="532.7,420.5 545.7,422 550.8,407.9 537.9,406.4"/><polygon fill="#36369f" points="545.7,422 558.6,423.4 563.7,409.3 550.8,407.9"/><polygon fill="#36369f" points="558.6,423.4 571.5,424.9 576.7,410.7 563.7,409.3"/><polygon fill="#36369f" points="571.5,424.9 584.4,426.3 589.6,412.2 576.7,410.7"/><polygon fill="#36369f" points="584.4,426.3 597.4,427.7 602.5,413.6 589.6,412.2"/><polygon fill="#36369f" points="597.4,427.7 610.3,429.2 615.5,415 602.5,413.6"/><polygon fill="url(#g33)" points="462.9,427.5 475.9,428.9 475.9,423.9 462.9,422.5"/><polygon fill="url(#g34)" points="475.9,428.9 481,414.8 481,409.8 475.9,423.9"/><polygon fill="#2a4cc8" points="462.9,422.5 475.9,423.9 481,409.8 468.1,408.4"/><polygon fill="url(#g35)" points="475.9,428.9 488.8,430.4 488.8,427.9 475.9,426.4"/><polygon fill="url(#g36)" points="488.8,430.4 493.9,416.2 493.9,413.7 488.8,427.9"/><polygon fill="#3340b4" points="475.9,426.4 488.8,427.9 493.9,413.7 481,412.3"/><polygon fill="#36369f" points="488.8,430.4 501.7,431.8 506.9,417.7 493.9,416.2"/><polygon fill="#36369f" points="501.7,431.8 514.6,433.2 519.8,419.1 506.9,417.7"/><polygon fill="#36369f" points="514.6,433.2 527.6,434.7 532.7,420.5 519.8,419.1"/><polygon fill="#36369f" points="527.6,434.7 540.5,436.1 545.7,422 532.7,420.5"/><polygon fill="#36369f" points="540.5,436.1 553.4,437.5 558.6,423.4 545.7,422"/><polygon fill="url(#g37)" points="553.4,437.5 566.3,439 566.3,436 553.4,434.5"/><polygon fill="url(#g38)" points="566.3,439 571.5,424.9 571.5,421.9 566.3,436"/><polygon fill="#3243b8" points="553.4,434.5 566.3,436 571.5,421.9 558.6,420.4"/><polygon fill="#36369f" points="566.3,439 579.3,440.4 584.4,426.3 571.5,424.9"/><polygon fill="#36369f" points="579.3,440.4 592.2,441.9 597.4,427.7 584.4,426.3"/><polygon fill="#36369f" points="431.9,438.7 444.8,440.2 450,426 437.1,424.6"/><polygon fill="#36369f" points="444.8,440.2 457.8,441.6 462.9,427.5 450,426"/><polygon fill="#36369f" points="457.8,441.6 470.7,443 475.9,428.9 462.9,427.5"/><polygon fill="#36369f" points="470.7,443 483.6,444.5 488.8,430.4 475.9,428.9"/><polygon fill="#36369f" points="483.6,444.5 496.5,445.9 501.7,431.8 488.8,430.4"/><polygon fill="#36369f" points="496.5,445.9 509.5,447.4 514.6,433.2 501.7,431.8"/><polygon fill="#36369f" points="509.5,447.4 522.4,448.8 527.6,434.7 514.6,433.2"/><polygon fill="#36369f" points="522.4,448.8 535.3,450.2 540.5,436.1 527.6,434.7"/><polygon fill="#36369f" points="535.3,450.2 548.2,451.7 553.4,437.5 540.5,436.1"/><polygon fill="url(#g39)" points="400.9,450 413.8,451.4 413.8,428.4 400.9,427"/><polygon fill="url(#g40)" points="413.8,451.4 419,437.3 419,414.3 413.8,428.4"/><polygon fill="#1487d3" points="400.9,427 413.8,428.4 419,414.3 406.1,412.9"/><polygon fill="url(#g41)" points="413.8,451.4 426.7,452.9 426.7,439.4 413.8,437.9"/><polygon fill="url(#g42)" points="426.7,452.9 431.9,438.7 431.9,425.2 426.7,439.4"/><polygon fill="#066fdf" points="413.8,437.9 426.7,439.4 431.9,425.2 419,423.8"/><polygon fill="url(#g43)" points="426.7,452.9 439.7,454.3 439.7,439.3 426.7,437.9"/><polygon fill="url(#g44)" points="439.7,454.3 444.8,440.2 444.8,425.2 439.7,439.3"/><polygon fill="#0a73dd" points="426.7,437.9 439.7,439.3 444.8,425.2 431.9,423.7"/><polygon fill="url(#g45)" points="439.7,454.3 452.6,455.7 452.6,447.7 439.7,446.3"/><polygon fill="url(#g46)" points="452.6,455.7 457.8,441.6 457.8,433.6 452.6,447.7"/><polygon fill="#0f5cde" points="439.7,446.3 452.6,447.7 457.8,433.6 444.8,432.2"/><polygon fill="#36369f" points="452.6,455.7 465.5,457.2 470.7,443 457.8,441.6"/><polygon fill="#36369f" points="465.5,457.2 478.5,458.6 483.6,444.5 470.7,443"/><polygon fill="#36369f" points="478.5,458.6 491.4,460 496.5,445.9 483.6,444.5"/><polygon fill="#36369f" points="491.4,460 504.3,461.5 509.5,447.4 496.5,445.9"/><polygon fill="url(#g47)" points="369.9,461.2 382.8,462.7 382.8,402.7 369.9,401.2"/><polygon fill="url(#g48)" points="382.8,462.7 388,448.5 388,388.5 382.8,402.7"/><polygon fill="#a5be6b" points="369.9,401.2 382.8,402.7 388,388.5 375,387.1"/><polygon fill="url(#g49)" points="382.8,462.7 395.7,464.1 395.7,430.1 382.8,428.7"/><polygon fill="url(#g50)" points="395.7,464.1 400.9,450 400.9,416 395.7,430.1"/><polygon fill="#06a6c7" points="382.8,428.7 395.7,430.1 400.9,416 388,414.5"/><polygon fill="url(#g51)" points="395.7,464.1 408.7,465.5 408.7,438 395.7,436.6"/><polygon fill="url(#g52)" points="408.7,465.5 413.8,451.4 413.8,423.9 408.7,438"/><polygon fill="#0b95d2" points="395.7,436.6 408.7,438 413.8,423.9 400.9,422.5"/><polygon fill="url(#g53)" points="408.7,465.5 421.6,467 421.6,445 408.7,443.5"/><polygon fill="url(#g54)" points="421.6,467 426.7,452.9 426.7,430.9 421.6,445"/><polygon fill="#1484d4" points="408.7,443.5 421.6,445 426.7,430.9 413.8,429.4"/><polygon fill="url(#g55)" points="421.6,467 434.5,468.4 434.5,458.4 421.6,457"/><polygon fill="url(#g56)" points="434.5,468.4 439.7,454.3 439.7,444.3 434.5,458.4"/><polygon fill="#0364e1" points="421.6,457 434.5,458.4 439.7,444.3 426.7,442.9"/><polygon fill="url(#g57)" points="434.5,468.4 447.4,469.9 447.4,465.9 434.5,464.4"/><polygon fill="url(#g58)" points="447.4,469.9 452.6,455.7 452.6,451.7 447.4,465.9"/><polygon fill="#2f47c0" points="434.5,464.4 447.4,465.9 452.6,451.7 439.7,450.3"/><polygon fill="url(#g59)" points="325.9,471 338.9,472.5 338.9,399.8 325.9,398.3"/><polygon fill="url(#g60)" points="338.9,472.5 344,458.4 344,385.7 338.9,399.8"/><polygon fill="#f0b94a" points="325.9,398.3 338.9,399.8 344,385.7 331.1,384.2"/><polygon fill="url(#g61)" points="338.9,472.5 351.8,473.9 351.8,420.9 338.9,419.5"/><polygon fill="url(#g62)" points="351.8,473.9 357,459.8 357,406.8 351.8,420.9"/><polygon fill="#72bf80" points="338.9,419.5 351.8,420.9 357,406.8 344,405.4"/><polygon fill="url(#g63)" points="351.8,473.9 364.7,475.4 364.7,428.4 351.8,426.9"/><polygon fill="url(#g64)" points="364.7,475.4 369.9,461.2 369.9,414.2 364.7,428.4"/><polygon fill="#41ba98" points="351.8,426.9 364.7,428.4 369.9,414.2 357,412.8"/><polygon fill="url(#g65)" points="364.7,475.4 377.6,476.8 377.6,435.2 364.7,433.8"/><polygon fill="url(#g66)" points="377.6,476.8 382.8,462.7 382.8,421.1 377.6,435.2"/><polygon fill="#1eb3ae" points="364.7,433.8 377.6,435.2 382.8,421.1 369.9,419.6"/><polygon fill="url(#g67)" points="377.6,476.8 390.6,478.2 390.6,447.7 377.6,446.3"/><polygon fill="url(#g68)" points="390.6,478.2 395.7,464.1 395.7,433.6 390.6,447.7"/><polygon fill="#079ecf" points="377.6,446.3 390.6,447.7 395.7,433.6 382.8,432.2"/><polygon fill="url(#g69)" points="390.6,478.2 403.5,479.7 403.5,453.7 390.6,452.2"/><polygon fill="url(#g70)" points="403.5,479.7 408.7,465.5 408.7,439.5 403.5,453.7"/><polygon fill="#0f90d2" points="390.6,452.2 403.5,453.7 408.7,439.5 395.7,438.1"/><polygon fill="url(#g71)" points="403.5,479.7 416.4,481.1 416.4,471.1 403.5,469.7"/><polygon fill="url(#g72)" points="416.4,481.1 421.6,467 421.6,457 416.4,471.1"/><polygon fill="#0364e1" points="403.5,469.7 416.4,471.1 421.6,457 408.7,455.5"/><polygon fill="url(#g73)" points="416.4,481.1 429.3,482.5 429.3,453.5 416.4,452.1"/><polygon fill="url(#g74)" points="429.3,482.5 434.5,468.4 434.5,439.4 429.3,453.5"/><polygon fill="#089ad0" points="416.4,452.1 429.3,453.5 434.5,439.4 421.6,438"/><polygon fill="url(#g75)" points="294.9,482.3 307.8,483.7 307.8,453.3 294.9,451.9"/><polygon fill="url(#g76)" points="307.8,483.7 313,469.6 313,439.2 307.8,453.3"/><polygon fill="#079ecf" points="294.9,451.9 307.8,453.3 313,439.2 300.1,437.8"/><polygon fill="url(#g77)" points="307.8,483.7 320.8,485.2 320.8,454.6 307.8,453.1"/><polygon fill="url(#g78)" points="320.8,485.2 325.9,471 325.9,440.4 320.8,454.6"/><polygon fill="#069ece" points="307.8,453.1 320.8,454.6 325.9,440.4 313,439"/><polygon fill="url(#g79)" points="320.8,485.2 333.7,486.6 333.7,457.1 320.8,455.7"/><polygon fill="url(#g80)" points="333.7,486.6 338.9,472.5 338.9,443 333.7,457.1"/><polygon fill="#079bd0" points="320.8,455.7 333.7,457.1 338.9,443 325.9,441.5"/><polygon fill="url(#g81)" points="333.7,486.6 346.6,488 346.6,467.6 333.7,466.2"/><polygon fill="url(#g82)" points="346.6,488 351.8,473.9 351.8,453.5 346.6,467.6"/><polygon fill="#1480d6" points="333.7,466.2 346.6,467.6 351.8,453.5 338.9,452.1"/><polygon fill="url(#g83)" points="346.6,488 359.5,489.5 359.5,469.5 346.6,468"/><polygon fill="url(#g84)" points="359.5,489.5 364.7,475.4 364.7,455.4 359.5,469.5"/><polygon fill="#137fd7" points="346.6,468 359.5,469.5 364.7,455.4 351.8,453.9"/><polygon fill="#36369f" points="359.5,489.5 372.5,490.9 377.6,476.8 364.7,475.4"/><polygon fill="url(#g85)" points="372.5,490.9 385.4,492.4 385.4,486.4 372.5,484.9"/><polygon fill="url(#g86)" points="385.4,492.4 390.6,478.2 390.6,472.2 385.4,486.4"/><polygon fill="#2351d1" points="372.5,484.9 385.4,486.4 390.6,472.2 377.6,470.8"/><polygon fill="url(#g87)" points="276.8,495 289.8,496.4 289.8,459.4 276.8,458"/><polygon fill="url(#g88)" points="289.8,496.4 294.9,482.3 294.9,445.3 289.8,459.4"/><polygon fill="#09acbe" points="276.8,458 289.8,459.4 294.9,445.3 282,443.9"/><polygon fill="url(#g89)" points="289.8,496.4 302.7,497.9 302.7,487.9 289.8,486.4"/><polygon fill="url(#g90)" points="302.7,497.9 307.8,483.7 307.8,473.7 302.7,487.9"/><polygon fill="#0364e1" points="289.8,486.4 302.7,487.9 307.8,473.7 294.9,472.3"/><polygon fill="url(#g91)" points="302.7,497.9 315.6,499.3 315.6,488.8 302.7,487.4"/><polygon fill="url(#g92)" points="315.6,499.3 320.8,485.2 320.8,474.7 315.6,488.8"/><polygon fill="#0266e1" points="302.7,487.4 315.6,488.8 320.8,474.7 307.8,473.2"/><polygon fill="url(#g93)" points="315.6,499.3 328.5,500.7 328.5,473.9 315.6,472.5"/><polygon fill="url(#g94)" points="328.5,500.7 333.7,486.6 333.7,459.8 328.5,473.9"/><polygon fill="#0d93d2" points="315.6,472.5 328.5,473.9 333.7,459.8 320.8,458.4"/><polygon fill="url(#g95)" points="328.5,500.7 341.5,502.2 341.5,500.7 328.5,499.2"/><polygon fill="url(#g96)" points="341.5,502.2 346.6,488 346.6,486.5 341.5,500.7"/><polygon fill="#353cac" points="328.5,499.2 341.5,500.7 346.6,486.5 333.7,485.1"/><polygon fill="url(#g97)" points="258.7,507.7 271.7,509.1 271.7,484.6 258.7,483.2"/><polygon fill="url(#g98)" points="271.7,509.1 276.8,495 276.8,470.5 271.7,484.6"/><polygon fill="#128cd2" points="258.7,483.2 271.7,484.6 276.8,470.5 263.9,469"/><polygon fill="#36369f" points="271.7,509.1 284.6,510.5 289.8,496.4 276.8,495"/><polygon fill="#36369f" points="284.6,510.5 297.5,512 302.7,497.9 289.8,496.4"/><polygon fill="url(#g99)" points="297.5,512 310.4,513.4 310.4,507.7 297.5,506.3"/><polygon fill="url(#g100)" points="310.4,513.4 315.6,499.3 315.6,493.6 310.4,507.7"/><polygon fill="#254fce" points="297.5,506.3 310.4,507.7 315.6,493.6 302.7,492.2"/></g><g stroke="#000" stroke-width="2.4" fill="none" stroke-linecap="butt"><polyline points="278,229.5 81.2,655.8 957,754.5" stroke-linejoin="miter"/></g><polygon points="285.5,209.7 267.2,225.5 288.8,233.5" fill="#000"/><polygon points="980.5,757 958.2,744.5 956,764.5" fill="#000"/><g fill="none" stroke="#ff3033"><ellipse cx="361.04" cy="443.97" rx="136.85" ry="85.64" stroke-width="9.3" transform="rotate(-32.41 361.04 443.97)"/><ellipse cx="932.28" cy="314.06" rx="124.31" ry="77.82" stroke-width="9.1" transform="rotate(-32.37 932.28 314.06)"/></g><rect x="1033.7" y="343.7" width="22.6" height="309.2" fill="url(#cb)"/><line x1="1056.3" x2="1056.3" y1="343.7" y2="652.9" stroke="#666" stroke-opacity="0.5" stroke-width="0.6"/><line x1="1044.7" x2="1056.3" y1="652.9" y2="652.9" stroke="#222" stroke-opacity="0.55" stroke-width="0.8"/><text x="1066.6" y="658.3" font-size="33">0</text><line x1="1044.7" x2="1056.3" y1="586.4" y2="586.4" stroke="#222" stroke-opacity="0.55" stroke-width="0.8"/><text x="1066.6" y="591.8" font-size="33">0.2</text><line x1="1044.7" x2="1056.3" y1="519.9" y2="519.9" stroke="#222" stroke-opacity="0.55" stroke-width="0.8"/><text x="1066.6" y="525.3" font-size="33">0.4</text><line x1="1044.7" x2="1056.3" y1="453.4" y2="453.4" stroke="#222" stroke-opacity="0.55" stroke-width="0.8"/><text x="1066.6" y="458.8" font-size="33">0.6</text><line x1="1044.7" x2="1056.3" y1="386.9" y2="386.9" stroke="#222" stroke-opacity="0.55" stroke-width="0.8"/><text x="1066.6" y="392.3" font-size="33">0.8</text><text transform="translate(1154 490.4) rotate(-90)" text-anchor="middle" font-size="33" font-weight="bold">Asymmetry, A</text><text x="192.4" y="454.7" font-size="32.5">80</text><text x="481.6" y="349.6" font-size="32.5">90</text><text x="256.5" y="656.2" font-size="32.6">100</text><text x="507.8" y="684.6" font-size="32.6">120</text><text x="770.2" y="710.6" font-size="32.6">140</text><text transform="translate(322.2 723.8) rotate(6.16)" font-size="32.9" font-weight="bold">Number of neutrons, N</text><text transform="translate(104.2 556.6) rotate(-66)" font-size="32.7" font-weight="bold">Number of protons, Z</text></svg></body></html>
